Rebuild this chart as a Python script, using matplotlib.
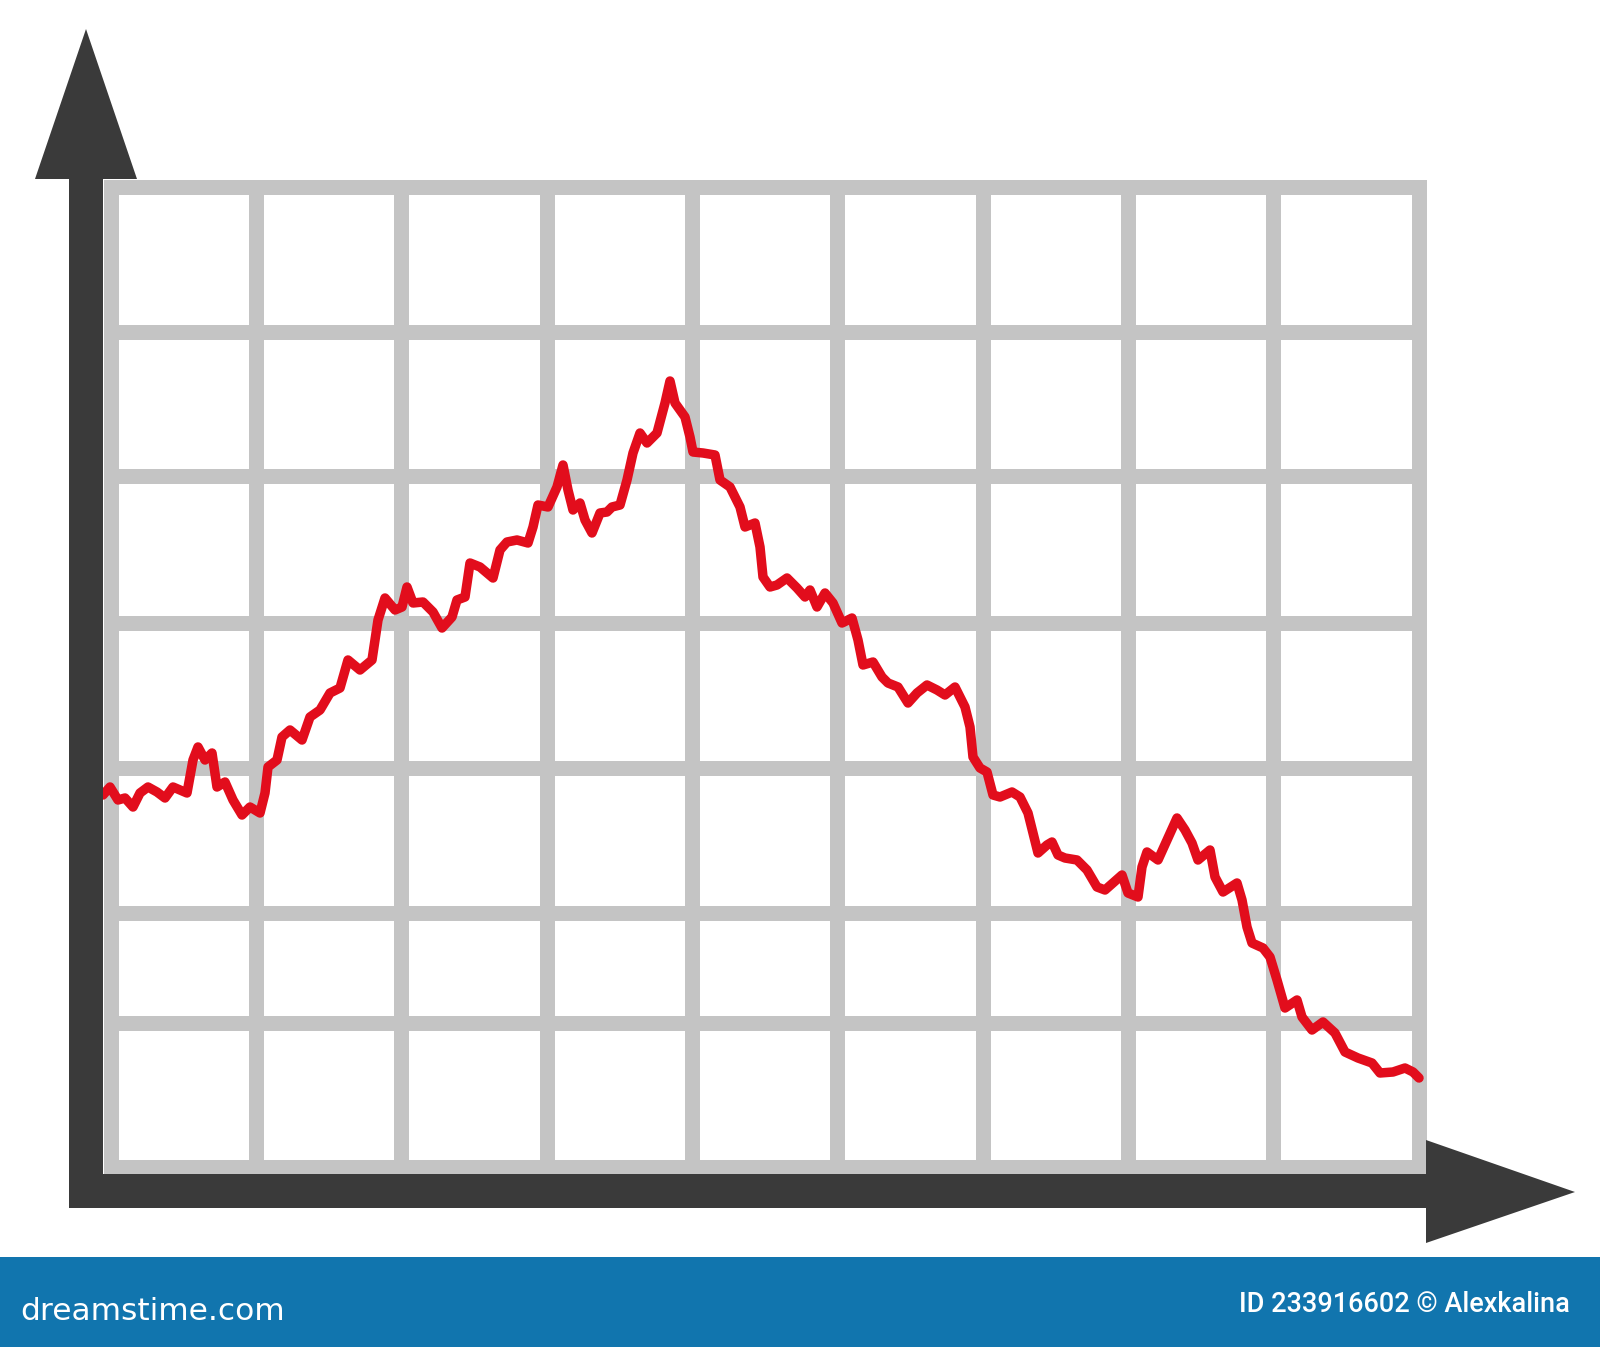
import numpy as np
import matplotlib
matplotlib.use("Agg")
import matplotlib.pyplot as plt
from matplotlib.patches import Polygon, Rectangle

# ---- data: time index and value of the red series ----
t = [-7, 0, 8, 15, 23, 30, 38, 47, 55, 63, 70, 77, 83, 88, 95, 102, 107, 115, 123, 132,
     140, 150, 155, 158, 167, 172, 180, 192, 200, 210, 220, 230, 238, 250, 262, 268, 275, 285, 292, 297,
     303, 313, 323, 332, 342, 347, 355, 360, 370, 383, 390, 397, 407, 418, 423, 428, 438, 447, 453, 458,
     463, 470, 475, 482, 490, 497, 502, 510, 517, 523, 530, 537, 547, 555, 560, 565, 575, 580, 583,
     593, 605, 610, 620, 630, 635, 645, 650, 653, 660, 667, 677, 687, 695, 700, 707, 715, 723, 732, 742,
     748, 753, 763, 772, 778, 788, 798, 807, 817, 827, 835, 845,
     855, 860, 863, 870, 877, 883, 890, 902, 910, 918, 923, 928, 937, 942, 948, 955, 967, 977, 987, 995,
     1003, 1012, 1018, 1028, 1032, 1037, 1048, 1057, 1067, 1075, 1082, 1088, 1100, 1105, 1113, 1127,
     1132, 1137, 1142, 1153, 1160, 1167, 1175, 1187, 1192, 1202, 1213, 1225, 1235, 1248, 1262, 1270,
     1283, 1295, 1303, 1309]
v = [372, 380, 367, 369, 360, 374, 380, 375, 369, 380, 377, 374, 407, 420, 407, 414, 380, 385, 367, 352,
     360, 354, 374, 400, 407, 430, 437, 427, 450, 457, 474, 479, 507, 497, 507, 547, 569, 557, 560, 580,
     564, 565, 555, 539, 550, 567, 570, 604, 600, 589, 617, 625, 627, 624, 640, 662, 660, 680, 702, 677,
     657, 664, 647, 634, 654, 655, 660, 662, 687, 714, 734, 724, 734, 764, 786, 764, 750, 730, 715,
     714, 712, 687, 680, 660, 640, 644, 620, 590, 580, 582, 589, 579, 570, 577, 560, 574, 564, 544, 549,
     527, 502, 505, 490, 484, 480, 464, 474, 482, 477, 472, 480,
     460, 440, 410, 399, 395, 372, 370, 375, 370, 354, 334, 314, 322, 325, 312, 309, 307, 297, 280, 277,
     284, 292, 274, 270, 300, 315, 307, 327, 349, 337, 324, 307, 317, 290, 275, 284,
     267, 240, 224, 219, 210, 187, 159, 167, 150, 137, 145, 134, 115, 109, 104, 94,
     95, 99, 95, 89]

# horizontal grid line levels (value axis) and number of columns
h_levels = [0, 144.5, 254, 399.5, 544.5, 691.5, 835.5, 980.5]
n_cols = 9
x_range = (0.5, 1308.5)

W, H = 1600, 1347
fig = plt.figure(figsize=(W / 100, H / 100), dpi=100)
fig.patch.set_facecolor("white")

GRID = "#c4c4c4"
DARK = "#3a3a3a"
RED = "#e20d1c"
BLUE = "#1175ae"

# chart axes: spans grid border centres
left_px, right_px, bottom_px, top_px = 110.5, 1418.5, 1167, 186.5
ax = fig.add_axes([left_px / W, (H - bottom_px) / H, (right_px - left_px) / W, (bottom_px - top_px) / H])
ax.set_xlim(*x_range)
ax.set_ylim(h_levels[0], h_levels[-1])
ax.axis("off")

lw_grid = 15 * 72 / 100
for xv in np.linspace(x_range[0], x_range[1], n_cols + 1):
    ax.plot([xv, xv], [h_levels[0], h_levels[-1]], color=GRID, lw=lw_grid,
            solid_capstyle="projecting", clip_on=False, zorder=1)
for yv in h_levels:
    ax.plot([x_range[0], x_range[1]], [yv, yv], color=GRID, lw=lw_grid,
            solid_capstyle="projecting", clip_on=False, zorder=1)

ax.plot(t, v, color=RED, lw=9.5 * 72 / 100, solid_joinstyle="round", solid_capstyle="round",
        clip_on=False, zorder=3)

# decoration overlay in pixel space
ov = fig.add_axes([0, 0, 1, 1], zorder=5)
ov.set_xlim(0, W)
ov.set_ylim(H, 0)
ov.axis("off")
ov.patch.set_alpha(0)

ov.add_patch(Rectangle((69, 179), 34, 1208 - 179, color=DARK, lw=0))
ov.add_patch(Rectangle((69, 1174), 1426 - 69, 34, color=DARK, lw=0))
ov.add_patch(Polygon([(35, 179), (137, 179), (86, 29)], closed=True, color=DARK, lw=0))
ov.add_patch(Polygon([(1426, 1140), (1426, 1243), (1575, 1192)], closed=True, color=DARK, lw=0))

ov.add_patch(Rectangle((0, 1257), W, H - 1257, color=BLUE, lw=0))
ov.text(20, 1320, "dreamstime.com", color="white", fontsize=22.5, family="DejaVu Sans",
        ha="left", va="baseline")
ov.text(1570, 1312, "ID 233916602 © Alexkalina", color="white", fontsize=19.5,
        family="Roboto", fontweight="medium", ha="right", va="baseline")

fig.savefig("out.png", dpi=100, facecolor="white")
